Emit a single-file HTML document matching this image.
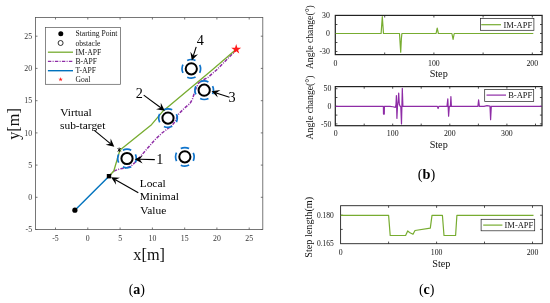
<!DOCTYPE html>
<html lang="en"><head><meta charset="utf-8"><title>Figure</title>
<style>html,body{margin:0;padding:0;background:#fff}svg{display:block}svg text{font-family:"Liberation Serif", serif}</style>
</head><body>
<svg width="550" height="303" viewBox="0 0 550 303">
<rect width="550" height="303" fill="#fff"/>
<rect x="35.5" y="17.5" width="227.3" height="212.0" fill="none" stroke="#555555" stroke-width="0.8"/>
<path d="M55.5 229.5v-2M55.5 17.5v2M87.8 229.5v-2M87.8 17.5v2M120.1 229.5v-2M120.1 17.5v2M152.4 229.5v-2M152.4 17.5v2M184.7 229.5v-2M184.7 17.5v2M216.9 229.5v-2M216.9 17.5v2M249.2 229.5v-2M249.2 17.5v2M35.5 229.5h2M262.8 229.5h-2M35.5 197.3h2M262.8 197.3h-2M35.5 165.1h2M262.8 165.1h-2M35.5 132.9h2M262.8 132.9h-2M35.5 100.7h2M262.8 100.7h-2M35.5 68.4h2M262.8 68.4h-2M35.5 36.2h2M262.8 36.2h-2" stroke="#555555" stroke-width="0.8" fill="none"/>
<g font-size="7.8" fill="#333" text-anchor="middle">
<text x="55.5" y="240.8">-5</text>
<text x="87.8" y="240.8">0</text>
<text x="120.1" y="240.8">5</text>
<text x="152.4" y="240.8">10</text>
<text x="184.7" y="240.8">15</text>
<text x="216.9" y="240.8">20</text>
<text x="249.2" y="240.8">25</text>
</g>
<g font-size="7.8" fill="#333" text-anchor="end">
<text x="32.1" y="232.2">-5</text>
<text x="32.1" y="200.0">0</text>
<text x="32.1" y="167.8">5</text>
<text x="32.1" y="135.6">10</text>
<text x="32.1" y="103.4">15</text>
<text x="32.1" y="71.1">20</text>
<text x="32.1" y="38.9">25</text>
</g>
<text x="149.2" y="259.5" font-size="16.3" text-anchor="middle" fill="#111">x[m]</text>
<text transform="translate(18.7 124) rotate(-90)" font-size="16.3" text-anchor="middle" fill="#111">y[m]</text>
<path d="M74.9 210.2L109 176.2" stroke="#0072BD" stroke-width="1.4" fill="none"/>
<path d="M109 176.2L114 171L120 168.8L126 168L130.5 166.5L135 162.5L140 157L146.5 149.5L154.7 140L162 133L168 128.5L172 125.5L175 121.5L178 114.8L184 108.5L190 103.5L192.5 99L195.2 90.2L198.5 83.1L203.4 79.8L207.7 77.6L216.5 70L236.2 50" stroke="#8E2CA6" stroke-width="1.5" fill="none" stroke-dasharray="3.4 1.3 1 1.3" stroke-linejoin="round"/>
<path d="M109 176.2L113.8 171L119.2 152.5L120.7 149.6L151.5 124.7L162.5 111.6L212.1 70L236.2 49.2" stroke="#77AC30" stroke-width="1.3" fill="none" stroke-linejoin="round"/>
<circle cx="127" cy="158.5" r="9.3" fill="none" stroke="#0F74CC" stroke-width="1.7" stroke-dasharray="8.6 6.0" stroke-dashoffset="4.5"/>
<circle cx="127" cy="158.5" r="5.6" fill="#fff" fill-opacity="0" stroke="#000" stroke-width="2"/>
<circle cx="168" cy="118.1" r="9.3" fill="none" stroke="#0F74CC" stroke-width="1.7" stroke-dasharray="8.6 6.0" stroke-dashoffset="4.5"/>
<circle cx="168" cy="118.1" r="5.6" fill="#fff" fill-opacity="0" stroke="#000" stroke-width="2"/>
<circle cx="204.2" cy="90.2" r="9.3" fill="none" stroke="#0F74CC" stroke-width="1.7" stroke-dasharray="8.6 6.0" stroke-dashoffset="4.5"/>
<circle cx="204.2" cy="90.2" r="5.6" fill="#fff" fill-opacity="0" stroke="#000" stroke-width="2"/>
<circle cx="191.3" cy="68.8" r="9.3" fill="none" stroke="#0F74CC" stroke-width="1.7" stroke-dasharray="8.6 6.0" stroke-dashoffset="4.5"/>
<circle cx="191.3" cy="68.8" r="5.6" fill="#fff" fill-opacity="0" stroke="#000" stroke-width="2"/>
<circle cx="184.85" cy="156.85" r="9.3" fill="none" stroke="#0F74CC" stroke-width="1.7" stroke-dasharray="8.6 6.0" stroke-dashoffset="4.5"/>
<circle cx="184.85" cy="156.85" r="5.6" fill="#fff" fill-opacity="0" stroke="#000" stroke-width="2"/>
<circle cx="74.9" cy="210.2" r="2.6" fill="#000"/>
<rect x="106.8" y="174" width="4.4" height="4.4" fill="#000"/>
<path d="M117.6 148.2l3.2 3.2M120.8 148.2l-3.2 3.2M119.2 147.6v4.4" stroke="#000" stroke-width="0.9" fill="none"/>
<polygon points="236.20,44.10 237.38,47.68 241.15,47.69 238.10,49.92 239.26,53.51 236.20,51.30 233.14,53.51 234.30,49.92 231.25,47.69 235.02,47.68" fill="#FF1A1A"/>
<path d="M196.2 46.8L193.3 55.8" stroke="#000" stroke-width="1.1" fill="none"/><polygon points="191.8,60.6 190.4,51.8 193.3,55.8 198.0,54.2" fill="#000"/>
<path d="M143.7 95.1L160.8 107.8" stroke="#000" stroke-width="1.1" fill="none"/><polygon points="164.8,110.8 156.0,109.2 160.8,107.8 160.8,102.8" fill="#000"/>
<path d="M229.5 97.3L216.2 92.9" stroke="#000" stroke-width="1.1" fill="none"/><polygon points="211.5,91.3 220.4,90.0 216.2,92.9 217.8,97.6" fill="#000"/>
<path d="M154.8 159.6L139.7 159.3" stroke="#000" stroke-width="1.1" fill="none"/><polygon points="134.7,159.2 142.8,155.4 139.7,159.3 142.6,163.4" fill="#000"/>
<path d="M94.3 130.4L110.4 143.6" stroke="#000" stroke-width="1.1" fill="none"/><polygon points="114.3,146.8 105.6,144.8 110.4,143.6 110.7,138.6" fill="#000"/>
<path d="M138.3 192.8L115.4 179.8" stroke="#000" stroke-width="1.1" fill="none"/><polygon points="111.1,177.3 120.0,177.8 115.4,179.8 116.1,184.7" fill="#000"/>
<g font-size="14.2" fill="#000">
<text x="196.8" y="44.6">4</text>
<text x="135.8" y="97.5">2</text>
<text x="228.6" y="102.2">3</text>
<text x="156.2" y="163.8">1</text>
</g>
<g font-size="11.4" fill="#000">
<text x="60.2" y="115.6">Virtual</text>
<text x="60" y="129">sub-target</text>
<text x="139.7" y="186.5">Local</text>
<text x="139.7" y="200.2">Minimal</text>
<text x="140.3" y="214">Value</text>
</g>
<rect x="45.4" y="27.4" width="75" height="56.9" fill="#fff" stroke="#555555" stroke-width="0.7"/>
<circle cx="60.8" cy="33.7" r="2.5" fill="#000"/>
<circle cx="60.6" cy="43" r="2.5" fill="none" stroke="#000" stroke-width="0.8"/>
<path d="M47.9 52.2H73" stroke="#77AC30" stroke-width="1.3"/>
<path d="M47.9 61.3H73" stroke="#8E2CA6" stroke-width="1.3" stroke-dasharray="3.4 1.3 1 1.3"/>
<path d="M47.9 70.7H73" stroke="#0072BD" stroke-width="1.4"/>
<polygon points="60.60,77.10 61.13,78.67 62.79,78.69 61.46,79.68 61.95,81.26 60.60,80.30 59.25,81.26 59.74,79.68 58.41,78.69 60.07,78.67" fill="#FF1A1A"/>
<g font-size="7.6" fill="#111">
<text x="75.5" y="36.4">Starting Point</text>
<text x="75.5" y="45.5">obstacle</text>
<text x="75.5" y="54.7">IM-APF</text>
<text x="75.5" y="63.8">B-APF</text>
<text x="75.5" y="73.2">T-APF</text>
<text x="75.5" y="81.9">Goal</text>
</g>
<text x="136.8" y="293.7" font-size="14" text-anchor="middle" fill="#000">(<tspan font-weight="bold">a</tspan>)</text>
<rect x="335.3" y="15.4" width="206.8" height="39.2" fill="none" stroke="#222222" stroke-width="1.2"/><path d="M384.7 54.6v-2.1M384.7 15.4v2.1M433.9 54.6v-2.1M433.9 15.4v2.1M483.1 54.6v-2.1M483.1 15.4v2.1M532.3 54.6v-2.1M532.3 15.4v2.1M335.3 15.5h2.1M542.1 15.5h-2.1M335.3 24.5h2.1M542.1 24.5h-2.1M335.3 33.5h2.1M542.1 33.5h-2.1M335.3 42.5h2.1M542.1 42.5h-2.1M335.3 51.5h2.1M542.1 51.5h-2.1" stroke="#222222" stroke-width="0.8" fill="none"/>
<path d="M335.5 33.5L381.1 33.5L382.3 16.7L383.5 33.5L399.5 33.5L400.7 52.1L401.4 38.3L401.9 33.5L436.1 33.5L437.2 28.1L438.4 33.5L451.9 33.5L453.1 39.5L454.2 33.5L533.3 33.5" stroke="#77AC30" stroke-width="1.2" fill="none" stroke-linejoin="round"/>
<g font-size="7.8" fill="#111" text-anchor="end">
<text x="329.8" y="18.1">30</text>
<text x="329.8" y="36.1">0</text>
<text x="329.8" y="54.1">-30</text>
</g>
<g font-size="7.8" fill="#111" text-anchor="middle">
<text x="335.5" y="65.6">0</text>
<text x="433.9" y="65.6">100</text>
<text x="532.3" y="65.6">200</text>
</g>
<text x="438.7" y="77.4" font-size="10.2" text-anchor="middle" fill="#111">Step</text>
<text transform="translate(313 37.2) rotate(-90)" font-size="9.7" text-anchor="middle" fill="#111">Angle change(°)</text>
<rect x="480.4" y="18.5" width="53.5" height="11.8" fill="#fff" stroke="#222222" stroke-width="0.7"/>
<path d="M481.2 24.7H501" stroke="#77AC30" stroke-width="1.2"/>
<text x="503.4" y="27.5" font-size="8.5" fill="#111">IM-APF</text>
<rect x="335.3" y="86.6" width="206.7" height="39.1" fill="none" stroke="#222222" stroke-width="1.2"/><path d="M364.2 125.7v-2.1M364.2 86.6v2.1M392.7 125.7v-2.1M392.7 86.6v2.1M421.2 125.7v-2.1M421.2 86.6v2.1M449.8 125.7v-2.1M449.8 86.6v2.1M478.4 125.7v-2.1M478.4 86.6v2.1M506.9 125.7v-2.1M506.9 86.6v2.1M535.5 125.7v-2.1M535.5 86.6v2.1M335.3 88.7h2.1M542 88.7h-2.1M335.3 97.5h2.1M542 97.5h-2.1M335.3 106.3h2.1M542 106.3h-2.1M335.3 115.1h2.1M542 115.1h-2.1M335.3 123.9h2.1M542 123.9h-2.1" stroke="#222222" stroke-width="0.8" fill="none"/>
<path d="M335.6 106.35L383.4 106.35L383.5 114.05L384.3 114.05L384.4 106.35L390 106.35L393 106.75L395.4 107.45L396 104.25L396.4 95.65L396.9 118.35L397.5 106.25L398.2 100.25L398.7 93.15L399.3 104.25L400 106.05L400.8 106.75L401.5 123.95L402.3 88.45L402.9 106.35L437.4 106.35L438.1 108.55L438.8 106.35L447 106.35L447.8 98.75L448.6 116.25L449.3 106.35L450.4 106.35L450.9 96.55L451.4 106.35L477.9 106.35L478.6 99.95L479.4 106.35L484 106.35L487 105.65L490 106.05L490.6 119.75L491.3 106.35L541.5 106.35" stroke="#8E2CA6" stroke-width="1.2" fill="none" stroke-linejoin="round"/>
<g font-size="7.8" fill="#111" text-anchor="end">
<text x="331.3" y="91.2">50</text>
<text x="331.3" y="108.9">0</text>
<text x="331.3" y="126.5">-50</text>
</g>
<g font-size="7.8" fill="#111" text-anchor="middle">
<text x="335.6" y="136.1">0</text>
<text x="392.7" y="136.1">100</text>
<text x="449.8" y="136.1">200</text>
<text x="506.9" y="136.1">300</text>
</g>
<text x="438.7" y="147.9" font-size="10.2" text-anchor="middle" fill="#111">Step</text>
<text transform="translate(313 107.5) rotate(-90)" font-size="9.7" text-anchor="middle" fill="#111">Angle change(°)</text>
<rect x="484.7" y="89.4" width="49" height="12.2" fill="#fff" stroke="#222222" stroke-width="0.7"/>
<path d="M486.5 95.1H506" stroke="#8E2CA6" stroke-width="1.2"/>
<text x="508.2" y="98" font-size="8.5" fill="#111">B-APF</text>
<text x="426.4" y="178.6" font-size="14.3" text-anchor="middle" fill="#000">(<tspan font-weight="bold">b</tspan>)</text>
<rect x="340.6" y="205.7" width="201.7" height="38.0" fill="none" stroke="#222222" stroke-width="0.9"/><path d="M388.6 243.7v-2.1M388.6 205.7v2.1M436.6 243.7v-2.1M436.6 205.7v2.1M484.5 243.7v-2.1M484.5 205.7v2.1M532.5 243.7v-2.1M532.5 205.7v2.1M340.6 215.2h2.1M542.3 215.2h-2.1M340.6 229.4h2.1M542.3 229.4h-2.1" stroke="#222222" stroke-width="0.8" fill="none"/>
<path d="M340.7 215.3L388.6 215.3L390.2 235.5L405.6 235.5L407.7 230.9L409.5 232.5L413 234.3L415 230.5L430.3 228.1L432 215.3L442.4 215.3L444 235.5L455.6 235.5L456.9 215.3L533.5 215.3" stroke="#77AC30" stroke-width="1.2" fill="none" stroke-linejoin="round"/>
<g font-size="7.5" fill="#111" text-anchor="end">
<text x="333.8" y="217.8">0.180</text><text x="333.8" y="245.8">0.165</text>
</g>
<g font-size="7.8" fill="#111" text-anchor="middle">
<text x="340.7" y="254.6">0</text>
<text x="436.6" y="254.6">100</text>
<text x="532.5" y="254.6">200</text>
</g>
<text x="441.4" y="266.6" font-size="10.2" text-anchor="middle" fill="#111">Step</text>
<text transform="translate(312 227.3) rotate(-90)" font-size="10.2" text-anchor="middle" fill="#111">Step length(m)</text>
<rect x="481.1" y="219.3" width="53.6" height="11.5" fill="#fff" stroke="#222222" stroke-width="0.7"/>
<path d="M483.2 225.1H502.4" stroke="#77AC30" stroke-width="1.2"/>
<text x="504.5" y="228" font-size="8.5" fill="#111">IM-APF</text>
<text x="426.7" y="293.6" font-size="14" text-anchor="middle" fill="#000">(<tspan font-weight="bold">c</tspan>)</text>
</svg>
</body></html>
